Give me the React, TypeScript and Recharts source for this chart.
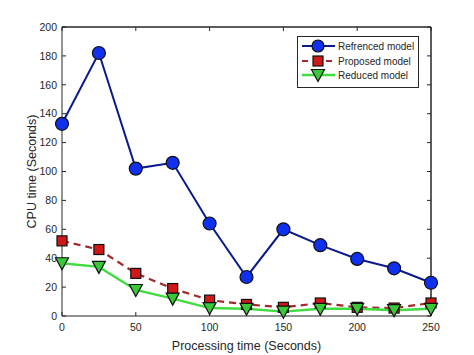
import React from 'react';
import { LineChart, Line, XAxis, YAxis, ReferenceLine } from 'recharts';

const processingTimes = [0, 25, 50, 75, 100, 125, 150, 175, 200, 225, 250];
const referencedModel = [133, 182, 102, 106, 64, 27, 60, 49, 39.5, 33, 23];
const proposedModel = [52, 46, 29.5, 19, 11, 8, 6, 9, 6, 5.5, 9];
const reducedModel = [36.5, 34, 18, 12, 5.5, 5, 3, 5, 5, 4, 5];
const xTicks = [0, 50, 100, 150, 200, 250];
const yTicks = [0, 20, 40, 60, 80, 100, 120, 140, 160, 180, 200];
const seriesNames = ['Refrenced model', 'Proposed model', 'Reduced model'];

const data = processingTimes.map((x, i) => ({
  x,
  ref: referencedModel[i],
  prop: proposedModel[i],
  red: reducedModel[i],
}));

const FONT = '"Liberation Sans", Arial, Helvetica, sans-serif';
const AXIS = '#262626';
const BLUE_LINE = '#0b1a8a';
const BLUE_FILL = '#1030f0';
const RED_LINE = '#a3282a';
const RED_FILL = '#d01818';
const GREEN_LINE = '#40dc40';
const GREEN_FILL = '#38c838';

const CircleDot = (p: any) => (
  <circle key={p.index} cx={p.cx} cy={p.cy} r={6.5} fill={BLUE_FILL} stroke="#101010" strokeWidth={1.2} />
);
const SquareDot = (p: any) => (
  <rect key={p.index} x={p.cx - 5} y={p.cy - 5} width={10} height={10} fill={RED_FILL} stroke="#101010" strokeWidth={1.2} />
);
const TriDot = (p: any) => (
  <polygon
    key={p.index}
    points={`${p.cx - 6.5},${p.cy - 5.5} ${p.cx + 6.5},${p.cy - 5.5} ${p.cx},${p.cy + 6.5}`}
    fill={GREEN_FILL}
    stroke="#101010"
    strokeWidth={1.2}
  />
);
const NoTick = (p: any) => <g key={p.index} />;

const tickStyle = { fontSize: 10.5, fill: AXIS, fontFamily: FONT };

export default function App() {
  return (
    <div style={{ position: 'relative', width: 466, height: 347, background: '#fff', fontFamily: FONT }}>
      <LineChart
        width={466}
        height={347}
        data={data}
        margin={{ top: 14, right: 38, bottom: 0, left: 0 }}
      >
        <XAxis
          dataKey="x"
          type="number"
          domain={[0, 250]}
          ticks={xTicks}
          height={39}
          stroke={AXIS}
          tickSize={-4}
          tickMargin={12}
          tick={tickStyle}
          label={{ value: 'Processing time (Seconds)', position: 'insideBottom', offset: 5, style: { fontSize: 12.5, fill: AXIS, fontFamily: FONT } }}
        />
        <XAxis
          xAxisId="top"
          orientation="top"
          dataKey="x"
          type="number"
          domain={[0, 250]}
          ticks={xTicks}
          height={5}
          stroke={AXIS}
          tickSize={-4}
          tick={NoTick}
        />
        <YAxis
          type="number"
          domain={[0, 200]}
          ticks={yTicks}
          width={54}
          stroke={AXIS}
          tickSize={-4}
          tickMargin={9}
          tick={tickStyle}
          label={{ value: 'CPU time (Seconds)', angle: -90, position: 'insideLeft', offset: 24, style: { fontSize: 12.5, fill: AXIS, fontFamily: FONT, textAnchor: 'middle' } }}
        />
        <YAxis
          yAxisId="right"
          orientation="right"
          type="number"
          domain={[0, 200]}
          ticks={yTicks}
          width={5}
          stroke={AXIS}
          tickSize={-4}
          tick={NoTick}
        />
        <ReferenceLine y={200} stroke={AXIS} strokeWidth={1} />
        <ReferenceLine x={250} stroke={AXIS} strokeWidth={1} />
        <Line xAxisId="top" yAxisId="right" dataKey="ref" stroke="none" strokeWidth={0} dot={false} activeDot={false} legendType="none" isAnimationActive={false} />
        <Line dataKey="ref" stroke={BLUE_LINE} strokeWidth={2} dot={CircleDot} isAnimationActive={false} />
        <Line dataKey="prop" stroke={RED_LINE} strokeWidth={2.2} strokeDasharray="7 5" dot={SquareDot} isAnimationActive={false} />
        <Line dataKey="red" stroke={GREEN_LINE} strokeWidth={2.4} dot={TriDot} isAnimationActive={false} />
      </LineChart>
      <svg
        width={122}
        height={52}
        style={{ position: 'absolute', left: 289, top: 28, background: '#fff' }}
      >
        <rect x={0.5} y={0.5} width={121} height={51} fill="#fff" stroke={AXIS} strokeWidth={1} />
        <line x1={5} x2={38} y1={10} y2={10} stroke={BLUE_LINE} strokeWidth={2} />
        <circle cx={21} cy={10} r={6} fill={BLUE_FILL} stroke="#101010" strokeWidth={1.2} />
        <text x={41} y={13.5} fontSize={10} fill={AXIS} fontFamily={FONT}>{seriesNames[0]}</text>
        <line x1={5} x2={38} y1={25} y2={25} stroke={RED_LINE} strokeWidth={2.2} strokeDasharray="6 6" />
        <rect x={16} y={20} width={10} height={10} fill={RED_FILL} stroke="#101010" strokeWidth={1.2} />
        <text x={41} y={28.5} fontSize={10} fill={AXIS} fontFamily={FONT}>{seriesNames[1]}</text>
        <line x1={5} x2={38} y1={39} y2={39} stroke={GREEN_LINE} strokeWidth={2.4} />
        <polygon points="14.5,33.5 27.5,33.5 21,45.5" fill={GREEN_FILL} stroke="#101010" strokeWidth={1.2} />
        <text x={41} y={42.5} fontSize={10} fill={AXIS} fontFamily={FONT}>{seriesNames[2]}</text>
      </svg>
    </div>
  );
}
